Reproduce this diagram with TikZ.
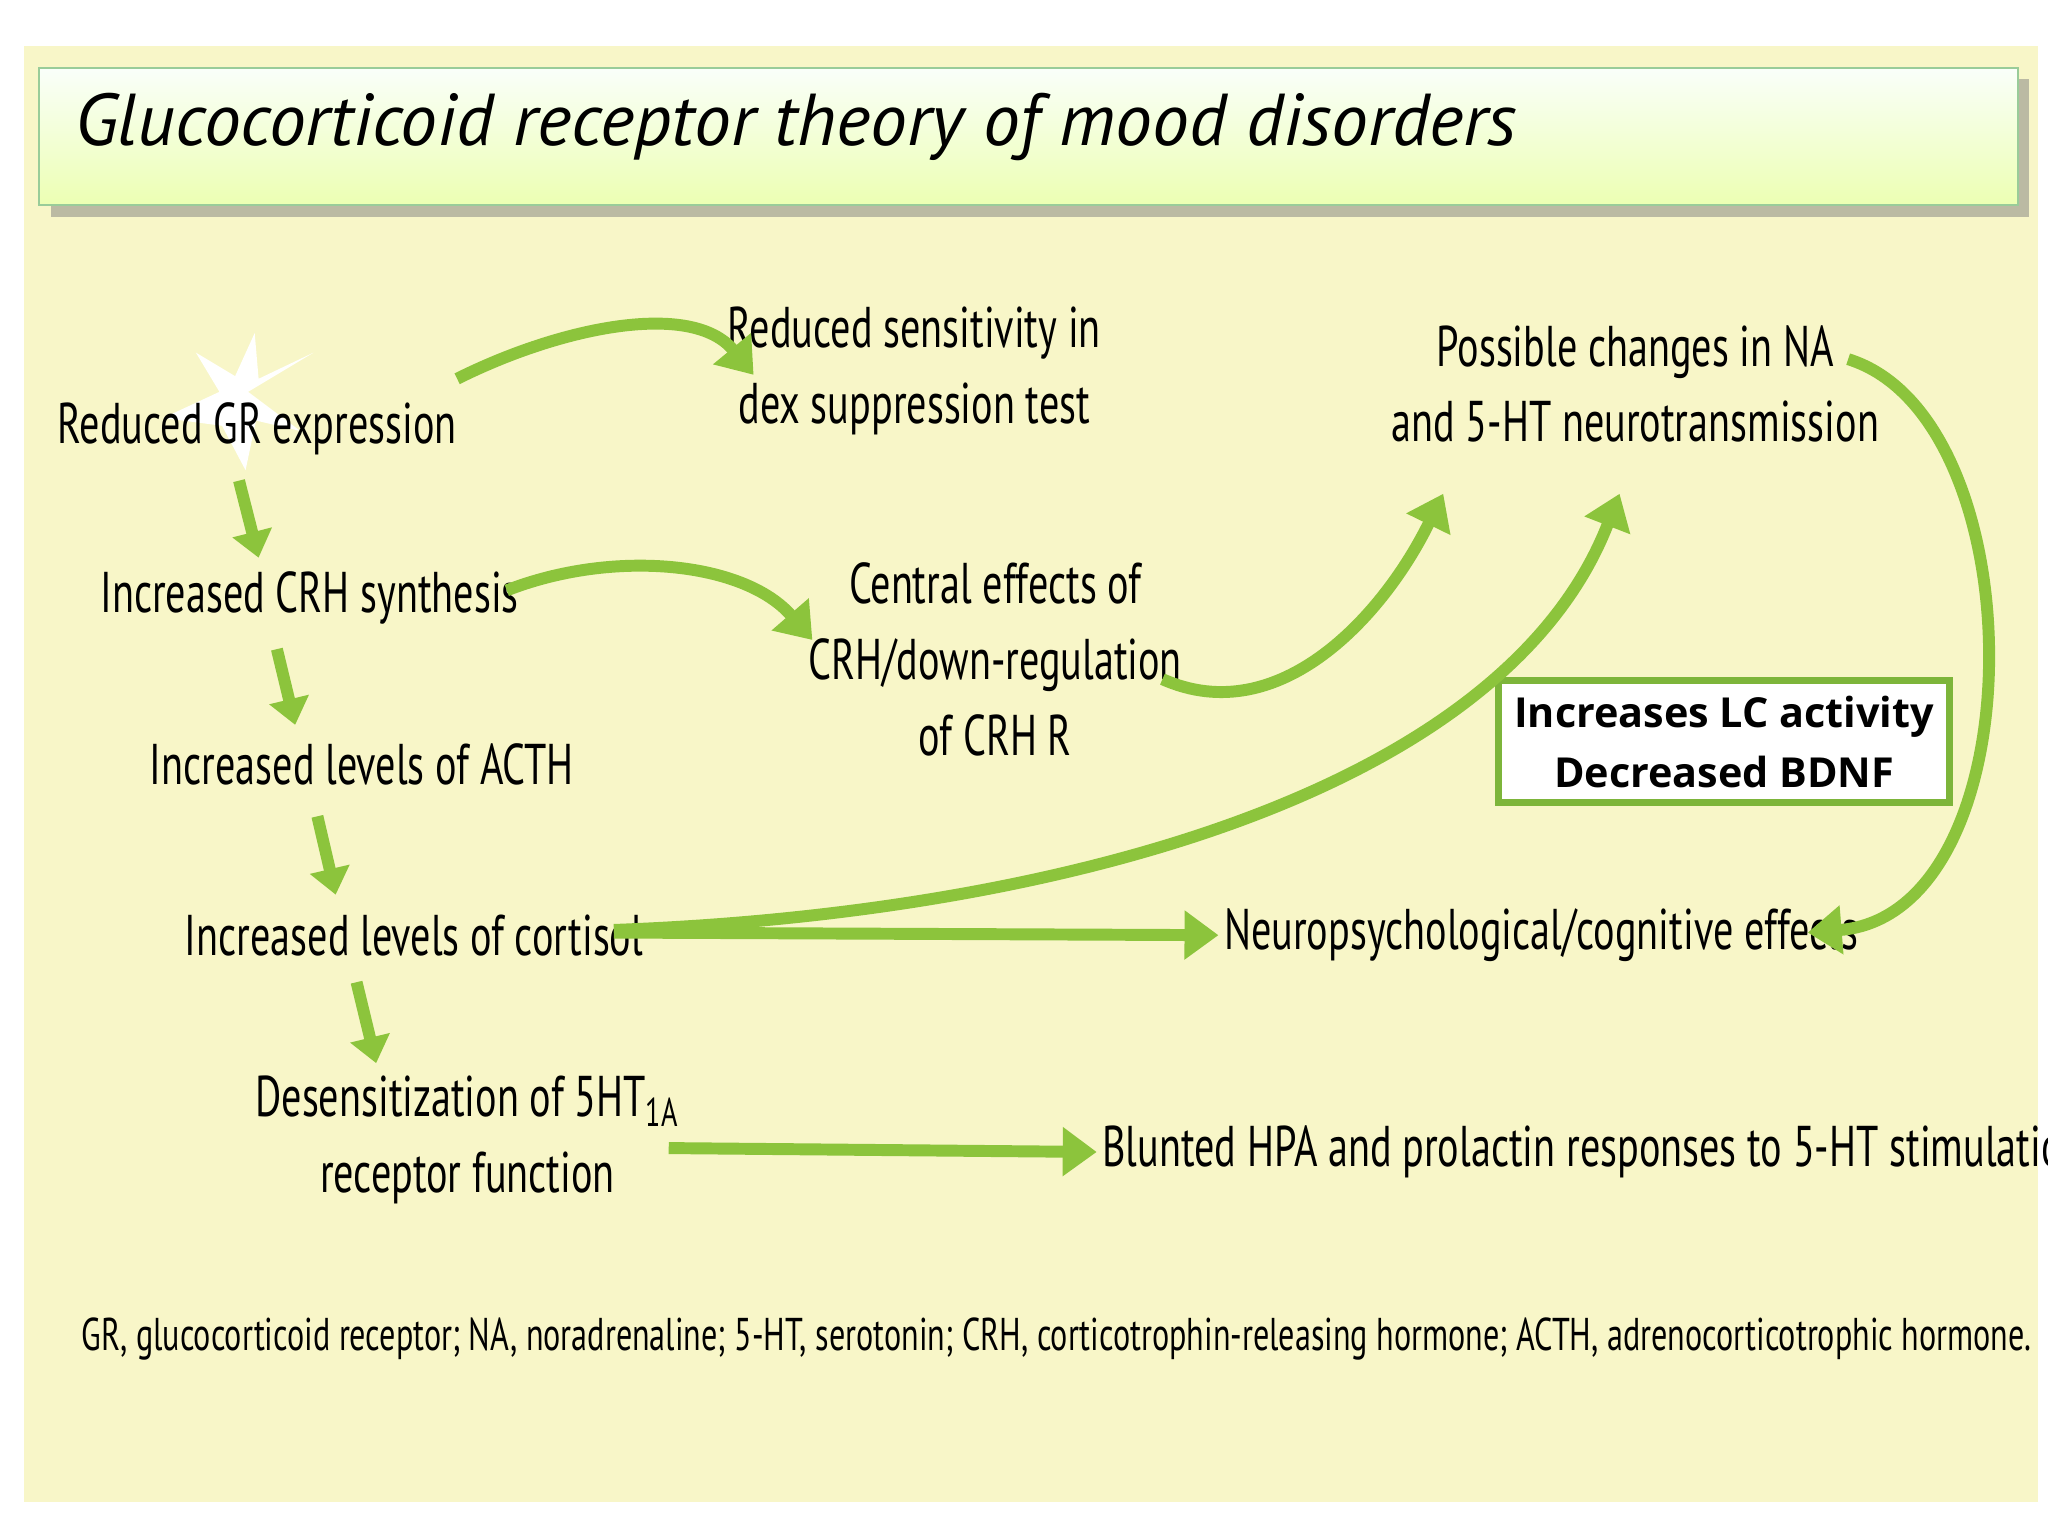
\documentclass[tikz,border=0pt]{standalone}
\usepackage{fontspec}
\setmainfont{PT Sans}
\newfontfamily\narrow{PT Sans}[FakeStretch=0.7]
\newfontfamily\boxfont{Open Sans}
\usetikzlibrary{arrows.meta,shadows}
\definecolor{bg}{HTML}{F8F6C8}
\definecolor{arr}{HTML}{8CC43C}
\definecolor{boxedge}{HTML}{7DB53A}
\begin{document}
\begin{tikzpicture}[x=0.01cm,y=-0.01cm,
  lbl/.style={font=\narrow\fontsize{12.5}{16.5}\selectfont, align=center, inner sep=1pt},
  garr/.style={draw=arr, line width=2.6pt, -{Triangle[length=0.26cm,width=0.36cm]}},
  sarr/.style={draw=arr, line width=2.6pt, -{Triangle[length=0.2cm,width=0.3cm]}}]
\useasboundingbox (0,0) rectangle (1568,1176);
\fill[white] (0,0) rectangle (1568,1176);
\fill[bg] (18,35) rectangle (1560,1150);
% title
\shade[top color=white!80!green!10, bottom color=green!25!yellow!30, draw=green!50!black!40, drop shadow]
  (30,52) rectangle (1545,157);
\node[anchor=west, font=\itshape\fontsize{16}{20}\selectfont] (title) at (45,97) {Glucocorticoid receptor theory of mood disorders};
% star burst
\fill[white] (190,300) -- (230,330) -- (196,322) -- (188,360) -- (170,326) -- (125,320) -- (168,300) -- (150,270) -- (180,288) -- (195,255) -- (198,290) -- (240,270) -- cycle;
% left column
\node[lbl] (gr) at (197,328) {Reduced GR expression};
\node[lbl] (crh) at (237,458) {Increased CRH synthesis};
\node[lbl] (acth) at (277,585) {Increased levels of ACTH};
\node[lbl] (cort) at (317,716) {Increased levels of cortisol};
\node[lbl] (desen) at (358,873) {Desensitization of 5HT\textsubscript{1A}\\receptor function};
% middle / right
\node[lbl] (dex) at (700,284) {Reduced sensitivity in\\dex suppression test};
\node[lbl] (central) at (762,505) {Central effects of\\CRH/down-regulation\\of CRH R};
\node[lbl] (na) at (1252,294) {Possible changes in NA\\and 5-HT neurotransmission};
\node[lbl] (neuro) at (1180,716) {Neuropsychological/cognitive effects};
\node[lbl] (blunt) at (1220,882) {Blunted HPA and prolactin responses to 5-HT stimulation};
\node[draw=boxedge, line width=1.5pt, fill=white, minimum width=2.9cm, minimum height=0.92cm,
  align=center, font=\boxfont\bfseries\fontsize{9}{13}\selectfont] (lc) at (1320,568)
  {Increases LC activity\\Decreased BDNF};
\node[anchor=west, font=\narrow\fontsize{10}{12}\selectfont] (foot) at (50,1025)
  {GR, glucocorticoid receptor; NA, noradrenaline; 5-HT, serotonin; CRH, corticotrophin-releasing hormone; ACTH, adrenocorticotrophic hormone.};
% connector end points
\coordinate (dexA) at (577,287);
\coordinate (cenA) at (622,490);
\coordinate (naA) at (1105,378);
\coordinate (naB) at (1240,378);
\coordinate (neuA) at (1384,714);
% down arrows
\draw[sarr] (183,368) -- (198,427);
\draw[sarr] (212,497) -- (226,555);
\draw[sarr] (243,625) -- (257,685);
\draw[sarr] (273,752) -- (288,814);
% curved arrows
\draw[garr] (350,290) .. controls (430,250) and (530,230) .. (dexA);
\draw[garr] (388,452) .. controls (470,420) and (570,430) .. (cenA);
\draw[garr] (890,520) .. controls (980,560) and (1060,470) .. (naA);
\draw[garr] (470,712) .. controls (800,700) and (1150,610) .. (naB);
\draw[garr] (470,714) -- (neuro.west);
\draw[garr] (1415,275) .. controls (1560,320) and (1560,700) .. (neuA);
\draw[garr] (512,879) -- (blunt.west);
\end{tikzpicture}
\end{document}
